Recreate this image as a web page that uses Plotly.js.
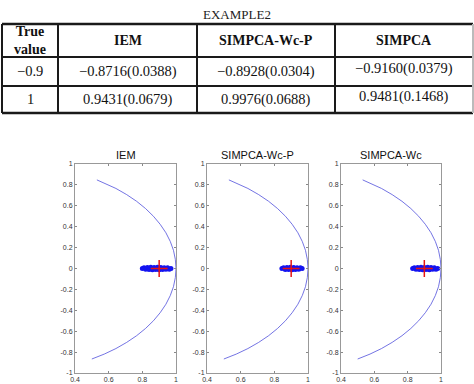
<!DOCTYPE html>
<html><head><meta charset="utf-8">
<script src="https://cdn.plot.ly/plotly-3.0.1.min.js"></script>
<style>html,body{margin:0;padding:0;background:#fff;}#chart{width:474px;height:384px;}</style>
</head><body><div id="chart"></div>
<script>
// ---- table data ----
var tableTitle = "EXAMPLE2";
var headers = ["True<br>value", "IEM", "SIMPCA-Wc-P", "SIMPCA"];
var trueValues = ["\u22120.9", "1"];
var iemCol = ["\u22120.8716(0.0388)", "0.9431(0.0679)"];
var wcpCol = ["\u22120.8928(0.0304)", "0.9976(0.0688)"];
var simpcaCol = ["\u22120.9160(0.0379)", "0.9481(0.1468)"];

// ---- subplot data ----
var panelTitles = ["IEM", "SIMPCA-Wc-P", "SIMPCA-Wc"];
var arcX = [0.530,0.574,0.643,0.707,0.766,0.819,0.866,0.906,0.940,0.966,0.985,0.996,1.000,0.996,0.985,0.966,0.940,0.906,0.866,0.819,0.766,0.707,0.643,0.574,0.500];
var arcY = [0.848,0.819,0.766,0.707,0.643,0.574,0.500,0.423,0.342,0.259,0.174,0.087,0.000,-0.087,-0.174,-0.259,-0.342,-0.423,-0.500,-0.574,-0.643,-0.707,-0.766,-0.819,-0.866];
var estIEM_x = [0.800,0.810,0.820,0.830,0.840,0.850,0.860,0.870,0.880,0.890,0.900,0.910,0.920,0.930,0.940,0.950,0.960,0.970];
var estIEM_y = [0.000,0.008,-0.008,0.010,-0.010,0.012,-0.012,0.010,-0.010,0.012,-0.012,0.010,-0.010,0.008,-0.008,0.006,-0.006,0.000];
var estWcP_x = [0.845,0.855,0.865,0.875,0.885,0.895,0.905,0.915,0.925,0.935,0.945,0.955,0.965];
var estWcP_y = [0.000,0.008,-0.010,0.010,-0.010,0.012,-0.012,0.010,-0.010,0.008,-0.008,0.006,0.000];
var estWc_x = [0.830,0.840,0.850,0.860,0.870,0.880,0.890,0.900,0.910,0.920,0.930,0.940,0.950,0.960,0.970,0.980];
var estWc_y = [0.000,0.008,-0.008,0.010,-0.010,0.012,-0.012,0.010,-0.010,0.012,-0.012,0.010,-0.008,0.008,-0.006,0.000];
var truthX = [0.9];
var truthY = [0];

var estX = [estIEM_x, estWcP_x, estWc_x];
var estY = [estIEM_y, estWcP_y, estWc_y];

var W = 474, H = 384;
function px(x){return x/W;}
function py(y){return 1 - y/H;}

// table geometry (pixels)
var colEdges = [2, 58, 197, 335, 473];
var rowEdges = [24, 57, 86, 113];
var colTextShift = [0, 0, 0, -3];

var layout = {
  width: W, height: H,
  margin: {l: 0, r: 0, t: 0, b: 0},
  paper_bgcolor: '#fff', plot_bgcolor: '#fff',
  showlegend: false,
  font: {family: 'Liberation Sans', size: 7, color: '#333'},
  annotations: [{
    text: tableTitle, xref: 'paper', yref: 'paper', x: 0.5, y: py(14),
    xanchor: 'center', yanchor: 'middle', showarrow: false,
    font: {family: 'Liberation Serif', size: 13, color: '#222'}
  }],
  shapes: []
};

// table lines
rowEdges.forEach(function(r, k){
  layout.shapes.push({type: 'line', xref: 'paper', yref: 'paper',
    x0: px(colEdges[0]), x1: px(colEdges[4]), y0: py(r), y1: py(r),
    line: {color: '#1a1a1a', width: (k === 0 || k === rowEdges.length - 1) ? 2.5 : 2}});
});
colEdges.forEach(function(c, k){
  layout.shapes.push({type: 'line', xref: 'paper', yref: 'paper',
    x0: px(c), x1: px(c), y0: py(rowEdges[0]), y1: py(rowEdges[3]),
    line: {color: k === 4 ? '#bbbbbb' : '#1a1a1a', width: 2}});
});
// table text
var columns = [trueValues, iemCol, wcpCol, simpcaCol];
for (var c = 0; c < 4; c++) {
  var cx = px((colEdges[c] + colEdges[c + 1]) / 2);
  layout.annotations.push({
    text: '<b>' + headers[c] + '</b>', xref: 'paper', yref: 'paper',
    x: cx, y: py((rowEdges[0] + rowEdges[1]) / 2), xanchor: 'center', yanchor: 'middle',
    showarrow: false, font: {family: 'Liberation Serif', size: 14, color: '#111'}
  });
  for (var r = 0; r < 2; r++) {
    layout.annotations.push({
      text: columns[c][r], xref: 'paper', yref: 'paper',
      x: cx, y: py((rowEdges[r + 1] + rowEdges[r + 2]) / 2 + colTextShift[c]),
      xanchor: 'center', yanchor: 'middle', showarrow: false,
      font: {family: 'Liberation Serif', size: 14.5, color: '#111'}
    });
  }
}

var traces = [];
var xDomains = [[px(75), px(176)], [px(207), px(308)], [px(341), px(441)]];
var yDomain = [py(373), py(164)];

for (var i = 0; i < 3; i++) {
  var sfx = i === 0 ? '' : String(i + 1);
  var xa = 'x' + sfx, ya = 'y' + sfx;
  traces.push({type: 'scatter', mode: 'lines', x: arcX, y: arcY, xaxis: xa, yaxis: ya,
    line: {color: 'rgb(80,80,220)', width: 0.8}, hoverinfo: 'skip'});
  traces.push({type: 'scatter', mode: 'markers', x: estX[i], y: estY[i], xaxis: xa, yaxis: ya,
    marker: {color: 'rgb(20,20,240)', size: 5, symbol: 'circle'}, hoverinfo: 'skip'});
  traces.push({type: 'scatter', mode: 'markers', x: truthX, y: truthY, xaxis: xa, yaxis: ya,
    marker: {color: 'rgb(230,20,20)', size: 12, symbol: 'cross-thin', line: {color: 'rgb(230,20,20)', width: 1.5}}, hoverinfo: 'skip'});
  layout['xaxis' + sfx] = {
    domain: xDomains[i], range: [0.4, 1], anchor: ya,
    tickvals: [0.4, 0.6, 0.8, 1], ticktext: ['0.4', '0.6', '0.8', '1'],
    ticks: 'inside', ticklen: 2, tickcolor: '#888', tickfont: {size: 7, color: '#333'},
    showline: true, linecolor: '#999', linewidth: 1, mirror: 'ticks',
    showgrid: false, zeroline: false, fixedrange: true
  };
  layout['yaxis' + sfx] = {
    domain: yDomain, range: [-1, 1], anchor: xa,
    tickvals: [-1,-0.8,-0.6,-0.4,-0.2,0,0.2,0.4,0.6,0.8,1],
    ticktext: ['-1','-0.8','-0.6','-0.4','-0.2','0','0.2','0.4','0.6','0.8','1'],
    ticks: 'inside', ticklen: 2, tickcolor: '#888', tickfont: {size: 7, color: '#333'},
    showline: true, linecolor: '#999', linewidth: 1, mirror: 'ticks',
    showgrid: false, zeroline: false, fixedrange: true
  };
  layout.annotations.push({
    text: panelTitles[i], xref: 'paper', yref: 'paper',
    x: (xDomains[i][0] + xDomains[i][1]) / 2, y: py(155),
    xanchor: 'center', yanchor: 'middle', showarrow: false,
    font: {family: 'Liberation Sans', size: 11, color: '#111'}
  });
}

Plotly.newPlot('chart', traces, layout, {staticPlot: true, displayModeBar: false});
</script></body></html>
